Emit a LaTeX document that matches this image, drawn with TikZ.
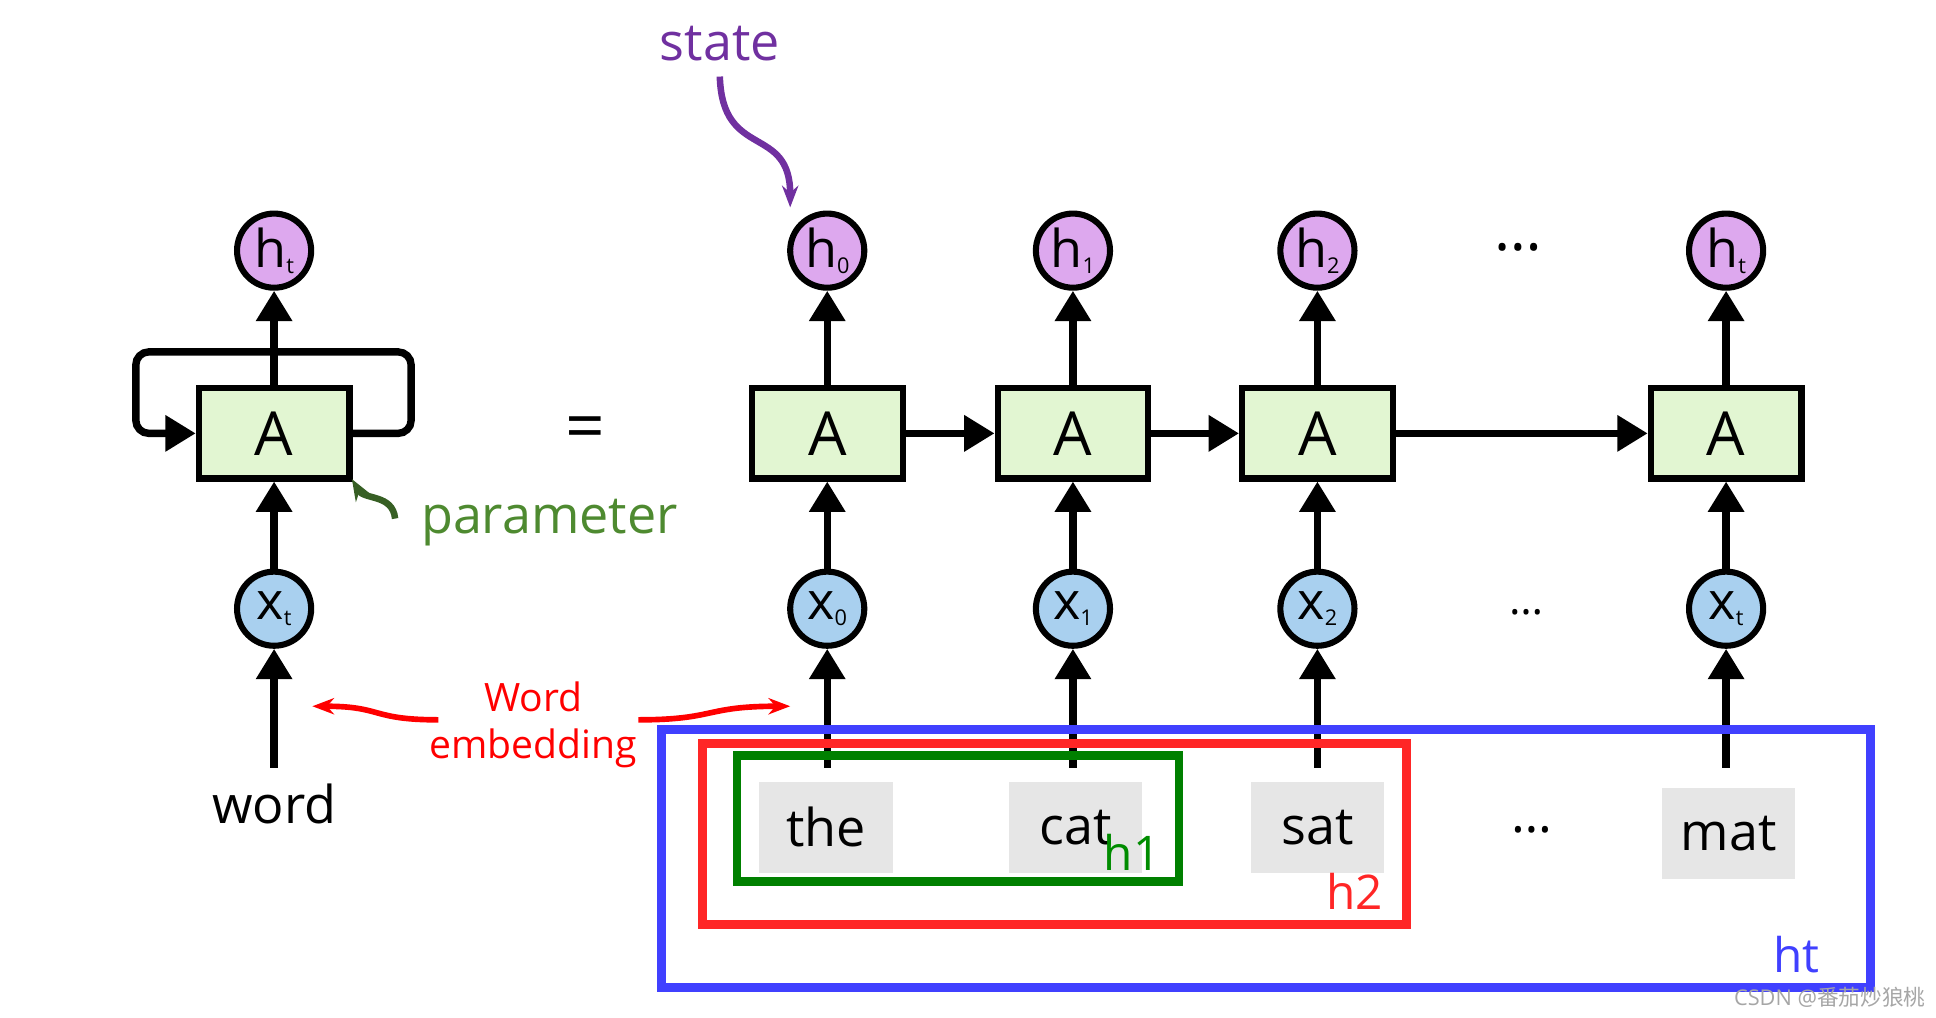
\documentclass[tikz,border=0pt]{standalone}
\usepackage{fontspec}
\setmainfont{Open Sans}
\newfontfamily\cjk{Noto Sans CJK SC}
\usetikzlibrary{arrows.meta}
\definecolor{hc}{HTML}{DDA8EE}
\definecolor{xc}{HTML}{A9D0EF}
\definecolor{ac}{HTML}{E2F6D2}
\definecolor{gbox}{HTML}{E6E6E6}
\definecolor{pg}{HTML}{4E8A30}
\definecolor{pd}{HTML}{375F24}
\definecolor{st}{HTML}{7030A0}
\begin{document}
\begin{tikzpicture}[x=0.01cm,y=-0.01cm,
 circ/.style={circle,draw,line width=1.4pt,minimum size=0.6cm,inner sep=0pt,font=\fontsize{12}{12}\selectfont},
 hn/.style={circ,fill=hc},
 xn/.style={circ,fill=xc},
 an/.style={draw,line width=1.4pt,fill=ac,minimum width=1.22cm,minimum height=0.73cm,inner sep=0pt,font=\fontsize{14}{14}\selectfont},
 ar/.style={line width=1.7pt,-{Triangle[length=7pt,width=8pt]}}, 
 wb/.style={fill=gbox,minimum width=1.08cm,minimum height=0.74cm,inner sep=0pt,font=\fontsize{12}{12}\selectfont}]
\useasboundingbox (0,0) rectangle (1568,824);
% left
\node[hn] (hl) at (222,203) {h\raisebox{-0.2ex}{\tiny t}};
\node[an] (al) at (222,351) {A};
\node[xn] (xl) at (222,493) {x\raisebox{-0.2ex}{\tiny t}};
\node[font=\fontsize{12}{12}\selectfont] (word) at (222,651) {word};
\coordinate (wl) at (222,622);
\draw[ar] (wl) -- (xl);
\draw[ar] (xl) -- (al);
\draw[ar] (al) -- (hl);
\draw[line width=1.7pt,rounded corners=3pt] (al.east) -- (333,351) -- (333,285) -- (110,285) -- (110,351) -- (150,351);
\draw[ar] (140,351) -- (al.west);
\node[font=\fontsize{16}{16}\selectfont] (eq) at (474,351) {=};
\node[text=pg,font=\fontsize{12}{12}\selectfont] (par) at (445,423) {parameter};
\draw[pd,line width=1.5pt,-{Stealth[length=5pt]}] (320,420) .. controls (318,400) and (295,405) .. (285,388);
% columns
\foreach \i/\x/\s in {0/670/0,1/869/1,2/1067/2,3/1398/t}{
 \node[hn] (h\i) at (\x,203) {h\raisebox{-0.2ex}{\tiny \s}};
 \node[an] (a\i) at (\x,351) {A};
 \node[xn] (x\i) at (\x,493) {x\raisebox{-0.2ex}{\tiny \s}};
 \coordinate (w\i) at (\x,622);
 \draw[ar] (w\i) -- (x\i);
 \draw[ar] (x\i) -- (a\i);
 \draw[ar] (a\i) -- (h\i);
}
\draw[ar] (a0) -- (a1);
\draw[ar] (a1) -- (a2);
\draw[ar] (a2) -- (a3);
\node[font=\fontsize{14}{14}\selectfont] (d1) at (1230,200) {\dots};
\node[font=\fontsize{10}{10}\selectfont] (d2) at (1236,496) {\dots};
\node[font=\fontsize{12}{12}\selectfont] (d3) at (1241,672) {\dots};
% state
\node[text=st,font=\fontsize{12}{12}\selectfont] (state) at (583,35) {state};
\draw[st,line width=1.5pt,-{Stealth[length=5pt]}] (583,62) .. controls (585,130) and (640,100) .. (640,168);
% word embedding
\node[text=red,align=center,font=\fontsize{9}{11}\selectfont] (we) at (432,587) {Word\\embedding};
\draw[red,line width=1.3pt,-{Stealth[length=5pt]}] (355,583) .. controls (300,583) and (310,572) .. (253,572);
\draw[red,line width=1.3pt,-{Stealth[length=5pt]}] (517,583) .. controls (580,583) and (570,572) .. (640,572);
% word boxes
\node[wb] (the) at (669,670) {the};
\node[wb] (cat) at (871,670) {cat};
\node[wb] (sat) at (1067,670) {sat};
\node[wb] (mat) at (1400,675) {mat};
\draw[green!50!black,line width=2pt] (597,612) rectangle (955,714);
\node[text=green!55!black,font=\fontsize{11}{11}\selectfont] (lh1) at (917,690) {h1};
\draw[red!85!white,line width=2pt] (569,602) rectangle (1139,749);
\node[text=red!85!white,font=\fontsize{11}{11}\selectfont] (lh2) at (1097,722) {h2};
\draw[blue!75!white,line width=2pt] (536,591) rectangle (1515,800);
\node[text=blue!75!white,font=\fontsize{11}{11}\selectfont] (lht) at (1455,773) {ht};
\node[text=gray!70,font=\fontsize{5}{5}\selectfont] (csdn) at (1482,808) {CSDN @{\cjk 番茄炒狼桃}};
\end{tikzpicture}
\end{document}
